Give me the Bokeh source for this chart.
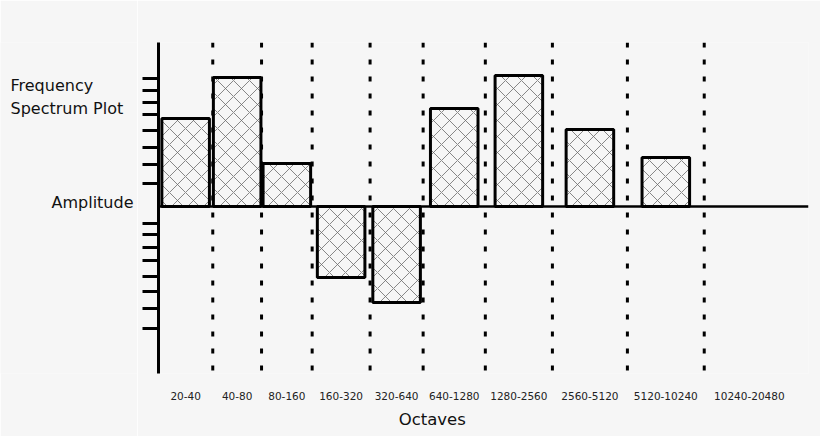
from bokeh.plotting import figure
from bokeh.models import Range1d, Span, FixedTicker, CustomJSTickFormatter, LinearAxis
from bokeh.core.properties import value
from bokeh.layouts import row
from bokeh.embed import file_html
from bokeh.resources import INLINE

# ---- data ----
octave_labels = ["20-40", "40-80", "80-160", "160-320", "320-640", "640-1280",
                 "1280-2560", "2560-5120", "5120-10240", "10240-20480"]
# band boundaries along the octave axis (as drawn, hand-spaced)
band_edges = [0.0, 0.89, 1.69, 2.52, 3.47, 4.34, 5.36, 6.46, 7.69, 8.95, 10.43]
# amplitude of each band (last band has no bar)
amplitudes = [5.5, 8.06, 2.69, -4.44, -6.0, 6.12, 8.19, 4.81, 3.06]
# amplitude tick marks on the vertical axis
amp_ticks = [8.0, 7.25, 6.5, 5.75, 4.75, 3.69, 2.63, 1.44,
             -1.06, -1.75, -2.56, -3.38, -4.38, -5.31, -6.38, -7.63]

BG = "#f6f6f6"
FONT = "DejaVu Sans"
TOP, FH, BOT = 42, 331, 63

centers = [(band_edges[i] + band_edges[i + 1]) / 2 for i in range(len(octave_labels))]

# ---- left text panel (frame aligned with the main frame, page-pixel coordinates) ----
LW = 137
side = figure(frame_width=LW, frame_height=FH, min_border_left=0, min_border_right=0,
              min_border_top=TOP, min_border_bottom=BOT,
              x_range=Range1d(0, LW), y_range=Range1d(TOP + FH, TOP),
              x_axis_location=None, y_axis_location=None,
              output_backend="svg", toolbar_location=None)
side.background_fill_color = BG
side.border_fill_color = BG
side.outline_line_color = None
side.grid.visible = False
for tx, ty, s, al in [(10, 84.5, "Frequency", "left"),
                      (10, 107.5, "Spectrum Plot", "left"),
                      (133, 202, "Amplitude", "right")]:
    side.text(x=[tx], y=[ty], text=[s], text_font=value(FONT), text_font_size="16px",
              text_color="#111111", text_align=al, text_baseline="alphabetic")

# ---- main chart ----
p = figure(frame_width=650, frame_height=FH, min_border_left=158 - LW, min_border_right=12,
           min_border_top=TOP, min_border_bottom=BOT,
           x_range=Range1d(0, 10.66), y_range=Range1d(-10.44, 10.25),
           output_backend="svg", toolbar_location=None)
p.background_fill_color = BG
p.border_fill_color = BG
p.outline_line_color = None
p.grid.visible = False

p.vbar(x=centers[:len(amplitudes)], top=amplitudes, bottom=0, width=0.78,
       fill_color=BG, line_color="black", line_width=3,
       hatch_pattern="diagonal_cross", hatch_scale=16, hatch_color="#6a6a6a",
       hatch_weight=0.8)

p.add_layout(Span(location=0, dimension="width", line_color="black", line_width=2.5))

for e in band_edges[1:-1]:
    p.add_layout(Span(location=e, dimension="height", line_color="black",
                      line_width=3, line_dash="5 12"))

yax = p.yaxis[0]
yax.ticker = FixedTicker(ticks=amp_ticks)
yax.formatter = CustomJSTickFormatter(code="return ''")
yax.axis_line_width = 3
yax.major_tick_line_width = 3
yax.major_tick_out = 16
yax.major_tick_in = 0
yax.major_label_standoff = 0
yax.minor_tick_line_color = None

xax = p.xaxis[0]
xax.ticker = FixedTicker(ticks=centers)
xax.major_label_overrides = {c: lab for c, lab in zip(centers, octave_labels)}
xax.axis_line_color = None
xax.major_tick_line_color = None
xax.minor_tick_line_color = None
xax.major_label_standoff = 12
xax.major_label_text_font = FONT
xax.major_label_text_font_size = "10.5px"
xax.major_label_text_color = "#222222"

# axis title "Octaves" placed under its octave position
OCT_POS = 4.49
tax = LinearAxis(ticker=FixedTicker(ticks=[OCT_POS]),
                 major_label_overrides={OCT_POS: "Octaves"})
tax.axis_line_color = None
tax.major_tick_line_color = None
tax.minor_tick_line_color = None
tax.major_label_standoff = 1
tax.major_label_text_font = FONT
tax.major_label_text_font_size = "16.5px"
tax.major_label_text_color = "#111111"
p.add_layout(tax, "below")

layout = row(side, p, spacing=0)
html = file_html(layout, INLINE)
html = html.replace("<body>", '<body style="background:%s;margin:0">' % BG, 1)
open("out.html", "w").write(html)
